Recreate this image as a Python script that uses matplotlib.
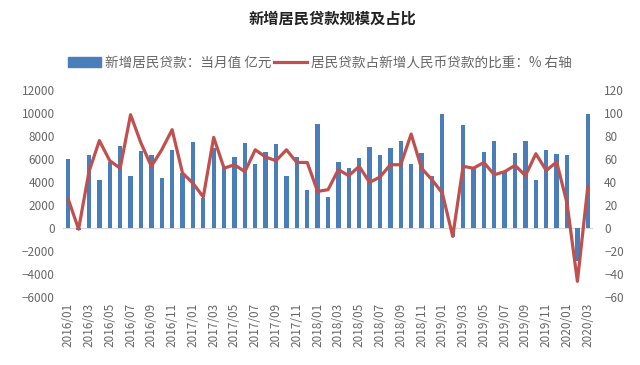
import numpy as np
import matplotlib
matplotlib.use('Agg')
import matplotlib.pyplot as plt
from matplotlib.patches import Patch
from matplotlib.lines import Line2D

plt.rcParams['font.family'] = ['Noto Sans CJK SC', 'DejaVu Sans']

# 月份
months = []
for y in range(2016, 2021):
    for m in range(1, 13):
        if y == 2020 and m > 3:
            break
        months.append(f'{y}/{m:02d}')

# 新增居民贷款：当月值 亿元
loans = [6040, -150, 6370, 4200, 5740, 7150, 4520, 6720, 6350, 4310, 6810,
         4800, 7500, 2600, 7000, 5400, 6140, 7390, 5580, 6630, 7300,
         4490, 6170, 3300, 9040, 2700, 5700, 5240, 6110, 7070, 6310, 6980,
         7560, 5590, 6550, 4490, 9880, -750, 8920, 5220, 6600, 7560, 5000,
         6520, 7560, 4170, 6810, 6430, 6310, -2900, 9880]

# 居民贷款占新增人民币贷款的比重：%
ratio = [25.2, -1, 49, 76, 58.5, 52, 98.5, 74, 53.6, 68, 85.5,
         47.8, 39, 27, 78.8, 52, 55, 49, 68, 61.7, 58.5,
         68, 57, 57, 31.8, 33.3, 50.7, 45.5, 53.6, 39.7, 44.3, 55,
         55, 81.7, 52, 42, 30.4, -7.3, 53.6, 52, 57, 46.3, 49,
         54.5, 45.5, 64.6, 50, 57.4, 21.7, -46.4, 36]

bar_color = '#4A7EBB'
line_color = '#C0504D'
text_color = '#666666'

fig = plt.figure(figsize=(6.4, 3.65), dpi=100)
ax = fig.add_axes([63 / 640, 1 - 297 / 365, 530 / 640, 207 / 365])
x = np.arange(len(months))

ax.bar(x, loans, width=0.42, color=bar_color, zorder=2)
ax.axhline(0, color='#D9D9D9', lw=0.8, zorder=1)
ax.set_ylim(-6000, 12000)
ax.set_yticks(range(-6000, 12001, 2000))
ax.set_xlim(-0.5, len(months) - 0.5)
ax.set_xticks(x[::2])
ax.set_xticklabels(months[::2], rotation=90)

ax2 = ax.twinx()
ax2.plot(x, ratio, color=line_color, lw=2.3, zorder=3)
ax2.set_ylim(-60, 120)
ax2.set_yticks(range(-60, 121, 20))

for a in (ax, ax2):
    for s in a.spines.values():
        s.set_visible(False)
    a.tick_params(length=0, labelsize=8.5, labelcolor=text_color)
ax.tick_params(axis='x', pad=4)
ax.tick_params(axis='y', pad=6)
ax2.tick_params(axis='y', pad=8)

fig.text(0.52, 1 - 19 / 365, '新增居民贷款规模及占比', ha='center', va='center',
         fontsize=11, fontweight='bold', color='#222222')

handles = [Patch(color=bar_color), Line2D([], [], color=line_color, lw=2.3)]
labels = ['新增居民贷款：当月值 亿元', '居民贷款占新增人民币贷款的比重：% 右轴']
fig.legend(handles, labels, loc='center', bbox_to_anchor=(0.5, 1 - 63 / 365),
           ncol=2, frameon=False, fontsize=9.8, labelcolor=text_color,
           handlelength=2.4, handletextpad=0.3, columnspacing=0.2)

fig.savefig('out.png', dpi=100)
